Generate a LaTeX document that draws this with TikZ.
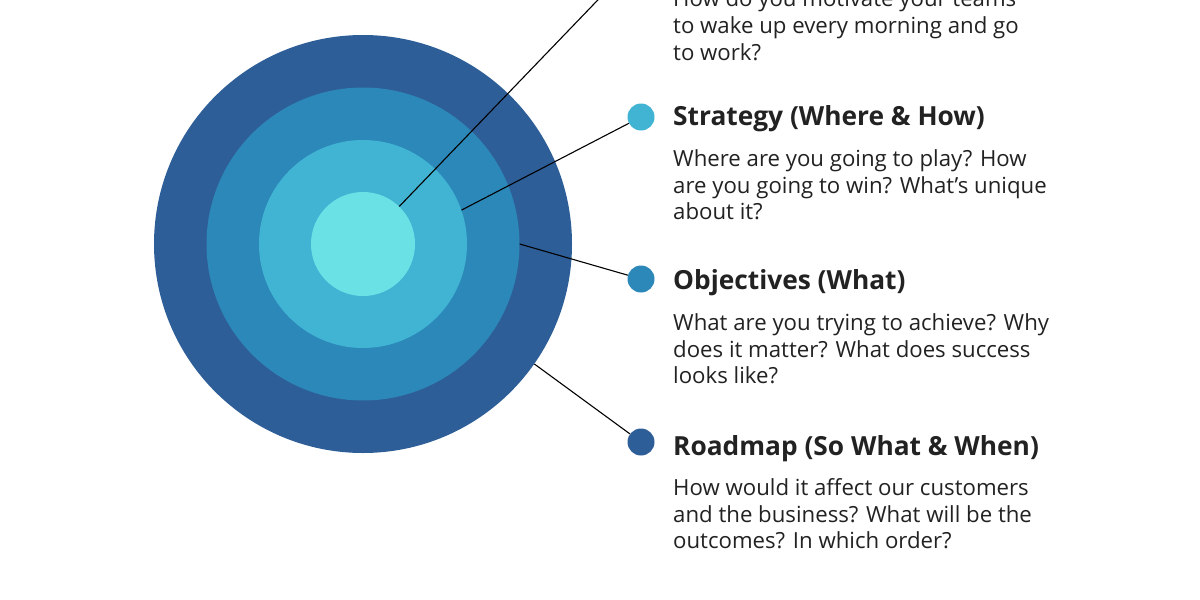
\documentclass[tikz,border=0pt]{standalone}
\usepackage{fontspec}
\setmainfont{Open Sans}
\definecolor{ringA}{HTML}{2E5E98}
\definecolor{ringB}{HTML}{2C88B8}
\definecolor{ringC}{HTML}{41B4D4}
\definecolor{ringD}{HTML}{6AE2E5}
\definecolor{txt}{HTML}{222222}
\tikzset{
  ring/.style={circle, inner sep=0pt, draw=none},
  dotnode/.style={circle, inner sep=0pt, minimum size=27pt, draw=none},
  title/.style={anchor=base west, inner sep=0pt, text=txt, font=\fontsize{26.3}{30}\selectfont\bfseries},
  body/.style={anchor=base west, inner sep=0pt, text=txt, font=\fontsize{22.2}{27}\selectfont},
  link/.style={draw=black, line width=1.1pt}
}
\begin{document}
\begin{tikzpicture}[x=1pt,y=-1pt]
\useasboundingbox (0,0) rectangle (1200,600);
\clip (0,0) rectangle (1200,600);
\fill[white] (0,0) rectangle (1200,600);
% rings
\node[ring, fill=ringA, minimum size=418pt] (c1) at (363,244) {};
\node[ring, fill=ringB, minimum size=313pt] (c2) at (363,244) {};
\node[ring, fill=ringC, minimum size=208pt] (c3) at (363,244) {};
\node[ring, fill=ringD, minimum size=104pt] (c4) at (363,244) {};
% dots
\coordinate (dp) at (643,-47);
\node[dotnode, fill=ringC] (ds) at (641,117) {};
\node[dotnode, fill=ringB] (do) at (641,279) {};
\node[dotnode, fill=ringA] (dr) at (641,442) {};
% links
\draw[link] (c4.46) -- (dp);
\draw[link] (c3.19) -- (ds);
\draw[link] (c2.0) -- (do);
\draw[link] (c1.-35.7) -- (dr);
% purpose text
\node[body] (p1) at (673,6) {How do you motivate your teams};
\node[body] (p2) at (673,33) {to wake up every morning and go};
\node[body] (p3) at (673,60) {to work?};
% strategy
\node[title] (st) at (673,125) {Strategy (Where \& How)};
\node[body] (s1) at (673,166) {Where are you going to play? How};
\node[body] (s2) at (673,193) {are you going to win? What’s unique};
\node[body] (s3) at (673,219) {about it?};
% objectives
\node[title] (ot) at (673,289) {Objectives (What)};
\node[body] (o1) at (673,330) {What are you trying to achieve? Why};
\node[body] (o2) at (673,357) {does it matter? What does success};
\node[body] (o3) at (673,383) {looks like?};
% roadmap
\node[title] (rt) at (673,455) {Roadmap (So What \& When)};
\node[body] (r1) at (673,495) {How would it affect our customers};
\node[body] (r2) at (673,522) {and the business? What will be the};
\node[body] (r3) at (673,548) {outcomes? In which order?};
\end{tikzpicture}
\end{document}
